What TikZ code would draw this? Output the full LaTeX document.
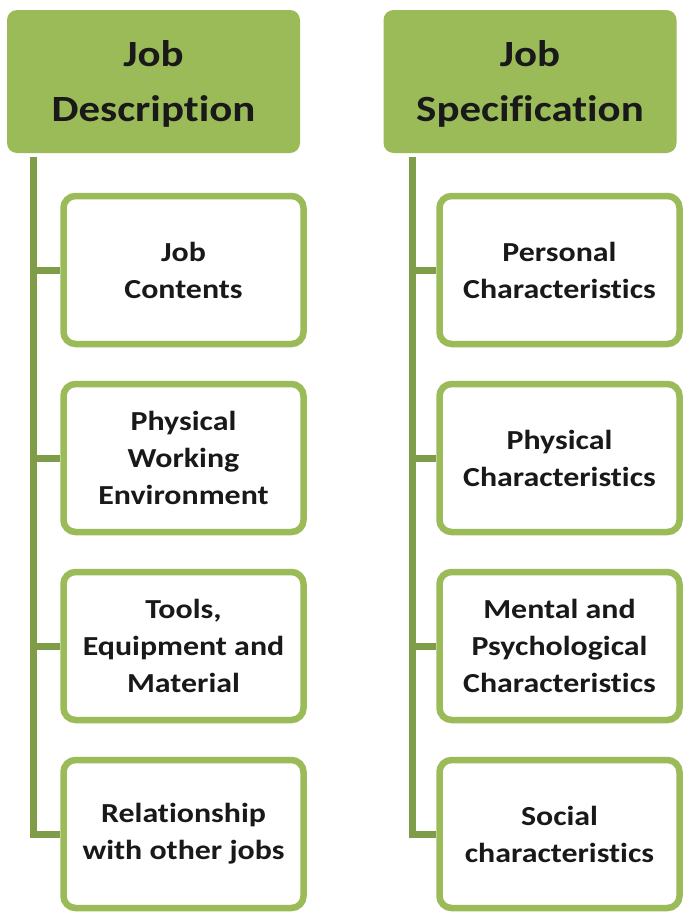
\documentclass[tikz,border=0pt]{standalone}
\usepackage{fontspec}
\setmainfont{Carlito}[FakeStretch=1.16, Ligatures=NoCommon]
\definecolor{hdr}{HTML}{9BBB59}
\definecolor{conn}{HTML}{7F9C48}
\begin{document}
\begin{tikzpicture}[x=1pt,y=-1pt,
  header/.style={fill=hdr, rounded corners=10pt, minimum width=293pt, minimum height=143pt, inner sep=0pt,
    align=center, font=\fontsize{37}{55}\selectfont\bfseries, text=black!90},
  child/.style={draw=hdr, line width=6.5pt, fill=white, rounded corners=12pt, minimum width=240pt, minimum height=148pt,
    inner sep=0pt, align=center, font=\fontsize{27.5}{37}\selectfont\bfseries, text=black!90},
  link/.style={draw=conn, line width=7pt}]
\useasboundingbox (0,0) rectangle (685,913);
\node[header] (h1) at (153.5,81.5) {};
\node[header] (h2) at (530,81.5) {};
\node[align=center, font=\fontsize{37}{55}\selectfont\bfseries, text=black!90] (t1) at (153.5,84) {Job\\Description};
\node[align=center, font=\fontsize{37}{55}\selectfont\bfseries, text=black!90] (t2) at (530,84) {Job\\Specification};
% left column
\node[child] (a1) at (183.5,270) {Job\\Contents};
\node[child] (a2) at (183.5,458) {Physical\\Working\\Environment};
\node[child] (a3) at (183.5,646) {Tools,\\Equipment and\\Material};
\node[child] (a4) at (183.5,834) {Relationship\\with other jobs};
% right column
\node[child] (b1) at (559.5,270) {Personal\\Characteristics};
\node[child] (b2) at (559.5,458) {Physical\\Characteristics};
\node[child] (b3) at (559.5,646) {Mental and\\Psychological\\Characteristics};
\node[child] (b4) at (559.5,834) {Social\\characteristics};
% connectors
\coordinate (la) at (33.5,157);
\coordinate (ra) at (412,157);
\draw[link] (la) |- (a4.west);
\draw[link] (la |- a1.west) -- (a1.west);
\draw[link] (la |- a2.west) -- (a2.west);
\draw[link] (la |- a3.west) -- (a3.west);
\draw[link] (ra) |- (b4.west);
\draw[link] (ra |- b1.west) -- (b1.west);
\draw[link] (ra |- b2.west) -- (b2.west);
\draw[link] (ra |- b3.west) -- (b3.west);
\end{tikzpicture}
\end{document}
